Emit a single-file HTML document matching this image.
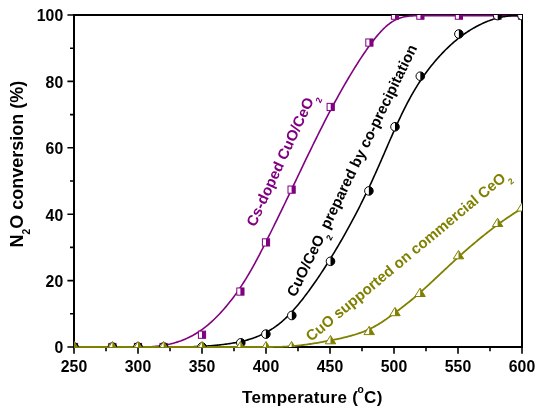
<!DOCTYPE html>
<html><head><meta charset="utf-8"><style>
html,body{margin:0;padding:0;background:#fff;}
svg{display:block;}
text{font-family:"Liberation Sans",Arial,sans-serif;font-weight:bold;}
.tl{font-size:15.8px;fill:#000;}
.at{font-size:17px;fill:#000;}
.ay{font-size:18px;}
.cl{font-size:14px;}
</style></head><body>
<svg width="550" height="413" viewBox="0 0 550 413">
<rect width="550" height="413" fill="#fff"/>
<defs><clipPath id="cp"><rect x="74" y="15" width="448" height="332"/></clipPath><clipPath id="co"><rect x="73" y="14" width="450" height="334"/></clipPath></defs>
<rect x="74" y="15" width="448" height="332" fill="none" stroke="#000" stroke-width="2"/>
<path d="M74.00,347 V353.8 M138.00,347 V353.8 M202.00,347 V353.8 M266.00,347 V353.8 M330.00,347 V353.8 M394.00,347 V353.8 M458.00,347 V353.8 M522.00,347 V353.8 M106.00,347 V351.3 M170.00,347 V351.3 M234.00,347 V351.3 M298.00,347 V351.3 M362.00,347 V351.3 M426.00,347 V351.3 M490.00,347 V351.3 M67.4,347.00 H74 M67.4,280.60 H74 M67.4,214.20 H74 M67.4,147.80 H74 M67.4,81.40 H74 M67.4,15.00 H74 M70,313.80 H74 M70,247.40 H74 M70,181.00 H74 M70,114.60 H74 M70,48.20 H74" stroke="#000" stroke-width="1.6" fill="none"/>
<g clip-path="url(#co)">
<path d="M74.00,347.00 L74.05,347.00 L74.12,347.00 L74.17,347.00 L74.24,347.00 L74.32,347.00 L74.41,347.00 L74.52,347.00 L74.65,347.00 L74.80,347.00 L74.97,347.00 L75.16,347.00 L75.38,347.00 L75.63,347.00 L75.90,347.00 L76.20,347.00 L76.52,347.00 L76.88,347.00 L77.28,347.00 L77.70,347.00 L78.17,347.00 L78.67,347.00 L79.20,347.00 L79.78,347.00 L80.40,347.00 L81.06,347.00 L81.76,347.00 L82.50,347.00 L83.28,347.00 L84.09,347.00 L84.94,347.00 L85.82,347.00 L86.72,347.00 L87.66,347.00 L88.62,347.00 L89.60,347.00 L90.61,347.00 L91.63,347.00 L92.67,347.00 L93.73,347.00 L94.81,347.00 L95.89,347.00 L96.99,347.00 L98.09,347.00 L99.20,347.00 L100.32,347.00 L101.44,347.00 L102.56,347.00 L103.68,347.00 L104.80,347.00 L105.91,347.00 L107.01,347.00 L108.11,347.00 L109.19,347.00 L110.27,347.00 L111.33,347.00 L112.37,347.00 L113.40,347.00 L114.42,347.00 L115.43,347.00 L116.43,347.00 L117.41,347.00 L118.39,347.00 L119.35,347.00 L120.30,347.00 L121.24,347.00 L122.18,347.00 L123.11,347.00 L124.02,347.00 L124.93,347.00 L125.84,347.00 L126.73,347.00 L127.62,347.00 L128.51,347.00 L129.39,347.00 L130.26,347.00 L131.13,347.00 L132.00,347.00 L132.86,347.00 L133.72,347.00 L134.58,347.00 L135.44,347.00 L136.29,347.00 L137.15,347.00 L138.00,347.00 L138.85,347.00 L139.71,347.00 L140.56,347.00 L141.42,347.00 L142.28,346.99 L143.14,346.98 L144.00,346.97 L144.87,346.96 L145.74,346.94 L146.61,346.92 L147.49,346.90 L148.38,346.87 L149.27,346.83 L150.16,346.79 L151.07,346.74 L151.98,346.69 L152.89,346.63 L153.82,346.56 L154.76,346.48 L155.70,346.39 L156.65,346.30 L157.61,346.19 L158.59,346.08 L159.57,345.95 L160.57,345.82 L161.58,345.67 L162.60,345.51 L163.63,345.34 L164.67,345.15 L165.73,344.95 L166.81,344.74 L167.89,344.51 L169.00,344.27 L170.11,344.02 L171.23,343.74 L172.37,343.45 L173.52,343.15 L174.68,342.82 L175.85,342.47 L177.03,342.11 L178.22,341.72 L179.42,341.31 L180.63,340.89 L181.84,340.43 L183.07,339.96 L184.30,339.46 L185.53,338.94 L186.78,338.39 L188.03,337.81 L189.28,337.21 L190.54,336.58 L191.80,335.92 L193.07,335.24 L194.34,334.52 L195.61,333.78 L196.89,333.00 L198.16,332.19 L199.44,331.35 L200.72,330.48 L202.00,329.57 L203.28,328.63 L204.56,327.65 L205.84,326.65 L207.11,325.61 L208.39,324.54 L209.66,323.44 L210.93,322.31 L212.20,321.16 L213.46,319.98 L214.72,318.77 L215.97,317.53 L217.22,316.28 L218.47,315.00 L219.70,313.69 L220.93,312.37 L222.16,311.02 L223.37,309.66 L224.58,308.28 L225.78,306.87 L226.97,305.46 L228.15,304.02 L229.32,302.57 L230.48,301.11 L231.63,299.64 L232.77,298.15 L233.89,296.65 L235.00,295.14 L236.11,293.62 L237.19,292.09 L238.27,290.56 L239.33,289.02 L240.37,287.47 L241.40,285.92 L242.42,284.35 L243.43,282.79 L244.43,281.21 L245.41,279.63 L246.39,278.05 L247.35,276.46 L248.30,274.86 L249.24,273.26 L250.18,271.65 L251.11,270.03 L252.02,268.41 L252.93,266.79 L253.84,265.16 L254.73,263.52 L255.62,261.88 L256.51,260.23 L257.39,258.58 L258.26,256.93 L259.13,255.26 L260.00,253.60 L260.86,251.93 L261.72,250.25 L262.58,248.57 L263.44,246.89 L264.29,245.20 L265.15,243.51 L266.00,241.81 L266.85,240.11 L267.71,238.40 L268.56,236.69 L269.42,234.97 L270.28,233.25 L271.14,231.51 L272.00,229.77 L272.87,228.01 L273.74,226.24 L274.62,224.46 L275.50,222.66 L276.38,220.85 L277.28,219.03 L278.18,217.19 L279.08,215.33 L279.99,213.45 L280.92,211.55 L281.85,209.63 L282.78,207.69 L283.73,205.73 L284.69,203.74 L285.66,201.73 L286.64,199.70 L287.63,197.63 L288.64,195.55 L289.65,193.43 L290.68,191.28 L291.72,189.10 L292.78,186.89 L293.85,184.65 L294.94,182.38 L296.04,180.07 L297.15,177.74 L298.28,175.38 L299.42,172.99 L300.57,170.57 L301.74,168.14 L302.91,165.68 L304.10,163.21 L305.30,160.71 L306.50,158.21 L307.72,155.68 L308.95,153.15 L310.18,150.61 L311.42,148.06 L312.67,145.50 L313.93,142.94 L315.19,140.37 L316.46,137.80 L317.73,135.24 L319.01,132.67 L320.29,130.11 L321.58,127.56 L322.86,125.02 L324.16,122.48 L325.45,119.96 L326.74,117.44 L328.04,114.95 L329.34,112.47 L330.63,110.01 L331.93,107.57 L333.23,105.15 L334.52,102.75 L335.81,100.37 L337.10,98.02 L338.39,95.69 L339.67,93.39 L340.95,91.11 L342.23,88.85 L343.50,86.63 L344.77,84.43 L346.03,82.26 L347.28,80.12 L348.53,78.00 L349.77,75.92 L351.00,73.87 L352.23,71.85 L353.44,69.86 L354.65,67.91 L355.85,65.99 L357.04,64.11 L358.22,62.26 L359.39,60.44 L360.54,58.66 L361.69,56.92 L362.82,55.22 L363.94,53.56 L365.04,51.93 L366.14,50.35 L367.22,48.81 L368.28,47.31 L369.33,45.85 L370.37,44.43 L371.39,43.05 L372.40,41.71 L373.40,40.41 L374.39,39.16 L375.36,37.94 L376.33,36.75 L377.29,35.61 L378.23,34.50 L379.17,33.44 L380.09,32.41 L381.01,31.41 L381.92,30.45 L382.83,29.53 L383.72,28.64 L384.61,27.79 L385.50,26.97 L386.38,26.19 L387.25,25.44 L388.12,24.72 L388.98,24.04 L389.85,23.39 L390.70,22.77 L391.56,22.18 L392.41,21.63 L393.27,21.10 L394.12,20.61 L394.97,20.15 L395.82,19.71 L396.67,19.31 L397.52,18.93 L398.37,18.58 L399.22,18.26 L400.08,17.96 L400.94,17.68 L401.80,17.43 L402.67,17.20 L403.54,16.99 L404.41,16.80 L405.29,16.63 L406.18,16.48 L407.07,16.34 L407.97,16.22 L408.87,16.12 L409.79,16.03 L410.71,15.95 L411.64,15.88 L412.58,15.83 L413.53,15.79 L414.49,15.75 L415.46,15.72 L416.44,15.70 L417.43,15.68 L418.43,15.67 L419.45,15.67 L420.48,15.67 L421.53,15.66 L422.58,15.66 L423.66,15.66 L424.74,15.66 L425.84,15.66 L426.95,15.66 L428.08,15.66 L429.22,15.66 L430.37,15.66 L431.53,15.66 L432.70,15.66 L433.88,15.66 L435.07,15.66 L436.27,15.66 L437.48,15.66 L438.70,15.66 L439.93,15.66 L441.16,15.66 L442.40,15.66 L443.64,15.66 L444.90,15.66 L446.15,15.66 L447.41,15.66 L448.68,15.66 L449.95,15.66 L451.23,15.66 L452.50,15.66 L453.78,15.66 L455.06,15.66 L456.35,15.66 L457.63,15.66 L458.92,15.66 L460.20,15.66 L461.49,15.66 L462.77,15.66 L464.05,15.66 L465.33,15.66 L466.61,15.66 L467.88,15.66 L469.16,15.66 L470.42,15.66 L471.68,15.66 L472.94,15.66 L474.19,15.66 L475.44,15.66 L476.68,15.66 L477.91,15.66 L479.13,15.66 L480.35,15.66 L481.55,15.66 L482.75,15.66 L483.94,15.66 L485.11,15.66 L486.28,15.66 L487.43,15.66 L488.58,15.66 L489.71,15.66 L490.82,15.66 L491.93,15.66 L493.02,15.66 L494.09,15.66 L495.15,15.66 L496.19,15.66 L497.22,15.66 L498.23,15.66 L499.23,15.66 L500.20,15.66 L501.16,15.66 L502.11,15.66 L503.03,15.66 L503.93,15.66 L504.82,15.66 L505.69,15.66 L506.53,15.66 L507.36,15.66 L508.16,15.66 L508.95,15.66 L509.71,15.66 L510.45,15.66 L511.17,15.66 L511.86,15.66 L512.54,15.66 L513.19,15.66 L513.81,15.66 L514.41,15.66 L514.99,15.66 L515.54,15.66 L516.07,15.66 L516.57,15.66 L517.05,15.66 L517.49,15.66 L517.92,15.66 L518.31,15.66 L518.68,15.66 L519.02,15.66 L519.34,15.66 L519.64,15.66 L519.91,15.66 L520.16,15.66 L520.39,15.66 L520.60,15.66 L520.79,15.66 L520.96,15.66 L521.12,15.66 L521.26,15.66 L521.38,15.66 L521.49,15.66 L521.59,15.66 L521.67,15.66 L521.74,15.66 L521.80,15.66 L521.85,15.66 L521.92,15.66 L521.98,15.66" stroke="#800080" stroke-width="1.6" fill="none"/>
<path d="M74.00,347.00 L74.05,347.00 L74.12,347.00 L74.17,347.00 L74.24,347.00 L74.32,347.00 L74.41,347.00 L74.52,347.00 L74.65,347.00 L74.80,347.00 L74.97,347.00 L75.16,347.00 L75.38,347.00 L75.63,347.00 L75.90,347.00 L76.20,347.00 L76.52,347.00 L76.88,347.00 L77.28,347.00 L77.70,347.00 L78.17,347.00 L78.67,347.00 L79.20,347.00 L79.78,347.00 L80.40,347.00 L81.06,347.00 L81.76,347.00 L82.50,347.00 L83.28,347.00 L84.09,347.00 L84.94,347.00 L85.82,347.00 L86.72,347.00 L87.66,347.00 L88.62,347.00 L89.60,347.00 L90.61,347.00 L91.63,347.00 L92.67,347.00 L93.73,347.00 L94.81,347.00 L95.89,347.00 L96.99,347.00 L98.09,347.00 L99.20,347.00 L100.32,347.00 L101.44,347.00 L102.56,347.00 L103.68,347.00 L104.80,347.00 L105.91,347.00 L107.01,347.00 L108.11,347.00 L109.19,347.00 L110.27,347.00 L111.33,347.00 L112.37,347.00 L113.40,347.00 L114.42,347.00 L115.43,347.00 L116.43,347.00 L117.41,347.00 L118.39,347.00 L119.35,347.00 L120.30,347.00 L121.24,347.00 L122.18,347.00 L123.11,347.00 L124.02,347.00 L124.93,347.00 L125.84,347.00 L126.73,347.00 L127.62,347.00 L128.51,347.00 L129.39,347.00 L130.26,347.00 L131.13,347.00 L132.00,347.00 L132.86,347.00 L133.72,347.00 L134.58,347.00 L135.44,347.00 L136.29,347.00 L137.15,347.00 L138.00,347.00 L138.85,347.00 L139.71,347.00 L140.56,347.00 L141.42,347.00 L142.28,347.00 L143.14,347.00 L144.00,347.00 L144.87,347.00 L145.74,347.00 L146.61,347.00 L147.49,347.00 L148.38,347.00 L149.27,347.00 L150.16,347.00 L151.07,347.00 L151.98,347.00 L152.89,347.00 L153.82,347.00 L154.76,347.00 L155.70,347.00 L156.65,347.00 L157.61,347.00 L158.59,347.00 L159.57,347.00 L160.57,347.00 L161.58,347.00 L162.60,347.00 L163.63,347.00 L164.67,347.00 L165.73,347.00 L166.81,347.00 L167.89,347.00 L169.00,347.00 L170.11,347.00 L171.23,347.00 L172.37,346.99 L173.52,346.99 L174.68,346.99 L175.85,346.98 L177.03,346.97 L178.23,346.97 L179.43,346.96 L180.63,346.94 L181.85,346.93 L183.08,346.91 L184.31,346.89 L185.55,346.87 L186.79,346.85 L188.04,346.82 L189.30,346.79 L190.56,346.76 L191.83,346.72 L193.10,346.68 L194.37,346.64 L195.65,346.59 L196.93,346.54 L198.21,346.49 L199.49,346.43 L200.78,346.37 L202.07,346.30 L203.35,346.23 L204.64,346.15 L205.93,346.07 L207.21,345.98 L208.49,345.89 L209.78,345.80 L211.05,345.70 L212.33,345.59 L213.60,345.48 L214.87,345.36 L216.13,345.25 L217.39,345.12 L218.64,344.99 L219.88,344.86 L221.12,344.72 L222.35,344.58 L223.58,344.43 L224.79,344.27 L226.00,344.11 L227.19,343.95 L228.38,343.78 L229.55,343.61 L230.72,343.43 L231.87,343.25 L233.01,343.06 L234.14,342.87 L235.26,342.67 L236.36,342.47 L237.44,342.26 L238.52,342.05 L239.57,341.83 L240.62,341.61 L241.65,341.38 L242.66,341.15 L243.66,340.91 L244.65,340.66 L245.63,340.41 L246.60,340.15 L247.55,339.89 L248.50,339.62 L249.43,339.34 L250.36,339.05 L251.27,338.76 L252.18,338.46 L253.08,338.15 L253.97,337.83 L254.86,337.51 L255.74,337.18 L256.62,336.83 L257.49,336.48 L258.35,336.12 L259.22,335.76 L260.07,335.38 L260.93,334.99 L261.78,334.59 L262.63,334.18 L263.48,333.77 L264.33,333.34 L265.18,332.90 L266.03,332.45 L266.88,331.99 L267.74,331.52 L268.59,331.03 L269.45,330.53 L270.30,330.02 L271.17,329.49 L272.03,328.94 L272.90,328.38 L273.77,327.79 L274.65,327.19 L275.54,326.57 L276.43,325.92 L277.32,325.26 L278.22,324.57 L279.13,323.85 L280.05,323.11 L280.98,322.35 L281.91,321.55 L282.85,320.73 L283.80,319.88 L284.77,319.00 L285.74,318.09 L286.72,317.15 L287.71,316.17 L288.72,315.16 L289.74,314.11 L290.77,313.03 L291.81,311.92 L292.86,310.76 L293.93,309.57 L295.02,308.33 L296.11,307.06 L297.23,305.75 L298.35,304.40 L299.48,303.02 L300.63,301.60 L301.79,300.15 L302.96,298.66 L304.14,297.13 L305.33,295.58 L306.53,293.99 L307.74,292.37 L308.95,290.71 L310.18,289.03 L311.41,287.32 L312.65,285.58 L313.89,283.81 L315.15,282.02 L316.40,280.19 L317.66,278.35 L318.93,276.47 L320.20,274.58 L321.47,272.65 L322.75,270.71 L324.03,268.74 L325.31,266.76 L326.60,264.75 L327.88,262.72 L329.16,260.67 L330.45,258.60 L331.73,256.51 L333.02,254.41 L334.30,252.29 L335.58,250.16 L336.86,248.01 L338.14,245.85 L339.41,243.67 L340.68,241.48 L341.95,239.28 L343.21,237.07 L344.47,234.85 L345.72,232.62 L346.96,230.39 L348.20,228.14 L349.44,225.89 L350.66,223.64 L351.88,221.38 L353.09,219.11 L354.30,216.85 L355.49,214.58 L356.68,212.31 L357.85,210.04 L359.02,207.77 L360.17,205.50 L361.31,203.23 L362.45,200.96 L363.57,198.70 L364.67,196.45 L365.77,194.20 L366.85,191.95 L367.92,189.71 L368.97,187.48 L370.02,185.26 L371.05,183.04 L372.06,180.83 L373.07,178.64 L374.06,176.45 L375.05,174.26 L376.02,172.09 L376.99,169.93 L377.94,167.77 L378.89,165.63 L379.83,163.50 L380.76,161.37 L381.68,159.26 L382.59,157.16 L383.50,155.07 L384.40,152.99 L385.30,150.93 L386.18,148.87 L387.07,146.83 L387.95,144.80 L388.82,142.78 L389.70,140.78 L390.56,138.79 L391.43,136.81 L392.29,134.85 L393.15,132.90 L394.01,130.97 L394.87,129.05 L395.72,127.15 L396.58,125.26 L397.44,123.38 L398.29,121.52 L399.15,119.68 L400.01,117.84 L400.87,116.03 L401.74,114.22 L402.60,112.43 L403.48,110.65 L404.35,108.89 L405.23,107.14 L406.12,105.40 L407.01,103.67 L407.91,101.96 L408.82,100.25 L409.73,98.56 L410.65,96.89 L411.58,95.22 L412.52,93.56 L413.47,91.92 L414.42,90.29 L415.39,88.67 L416.37,87.05 L417.37,85.45 L418.37,83.86 L419.39,82.28 L420.42,80.71 L421.46,79.15 L422.52,77.60 L423.59,76.06 L424.68,74.53 L425.78,73.00 L426.89,71.49 L428.02,70.00 L429.16,68.51 L430.31,67.03 L431.47,65.57 L432.64,64.13 L433.82,62.70 L435.02,61.28 L436.22,59.88 L437.43,58.49 L438.65,57.12 L439.88,55.77 L441.12,54.44 L442.36,53.12 L443.61,51.83 L444.86,50.55 L446.13,49.29 L447.39,48.06 L448.66,46.84 L449.94,45.65 L451.21,44.48 L452.50,43.34 L453.78,42.21 L455.07,41.11 L456.35,40.04 L457.64,38.99 L458.93,37.97 L460.22,36.97 L461.51,36.00 L462.80,35.05 L464.09,34.14 L465.37,33.24 L466.66,32.38 L467.94,31.53 L469.21,30.72 L470.49,29.92 L471.75,29.16 L473.02,28.41 L474.27,27.69 L475.52,27.00 L476.77,26.33 L478.00,25.68 L479.23,25.06 L480.45,24.45 L481.66,23.88 L482.86,23.32 L484.05,22.79 L485.23,22.28 L486.40,21.79 L487.56,21.33 L488.70,20.88 L489.83,20.46 L490.95,20.06 L492.06,19.68 L493.15,19.32 L494.22,18.98 L495.28,18.67 L496.33,18.37 L497.35,18.09 L498.36,17.84 L499.36,17.60 L500.33,17.37 L501.29,17.17 L502.23,16.98 L503.15,16.81 L504.05,16.65 L504.93,16.51 L505.80,16.38 L506.64,16.26 L507.46,16.16 L508.26,16.07 L509.04,15.98 L509.80,15.91 L510.54,15.85 L511.25,15.80 L511.94,15.75 L512.61,15.71 L513.26,15.68 L513.88,15.66 L514.47,15.64 L515.05,15.62 L515.60,15.61 L516.12,15.61 L516.62,15.60 L517.09,15.60 L517.53,15.60 L517.95,15.60 L518.34,15.60 L518.71,15.60 L519.05,15.60 L519.36,15.60 L519.66,15.60 L519.93,15.60 L520.17,15.60 L520.40,15.60 L520.61,15.60 L520.80,15.60 L520.97,15.60 L521.13,15.60 L521.26,15.60 L521.39,15.60 L521.49,15.60 L521.59,15.60 L521.67,15.60 L521.74,15.60 L521.80,15.60 L521.89,15.60 L521.95,15.60 L522.00,15.60" stroke="#000000" stroke-width="1.6" fill="none"/>
<path d="M74.00,347.00 L74.05,347.00 L74.12,347.00 L74.17,347.00 L74.24,347.00 L74.32,347.00 L74.41,347.00 L74.52,347.00 L74.65,347.00 L74.80,347.00 L74.97,347.00 L75.16,347.00 L75.38,347.00 L75.63,347.00 L75.90,347.00 L76.20,347.00 L76.52,347.00 L76.88,347.00 L77.28,347.00 L77.70,347.00 L78.17,347.00 L78.67,347.00 L79.20,347.00 L79.78,347.00 L80.40,347.00 L81.06,347.00 L81.76,347.00 L82.50,347.00 L83.28,347.00 L84.09,347.00 L84.94,347.00 L85.82,347.00 L86.72,347.00 L87.66,347.00 L88.62,347.00 L89.60,347.00 L90.61,347.00 L91.63,347.00 L92.67,347.00 L93.73,347.00 L94.81,347.00 L95.89,347.00 L96.99,347.00 L98.09,347.00 L99.20,347.00 L100.32,347.00 L101.44,347.00 L102.56,347.00 L103.68,347.00 L104.80,347.00 L105.91,347.00 L107.01,347.00 L108.11,347.00 L109.19,347.00 L110.27,347.00 L111.33,347.00 L112.37,347.00 L113.40,347.00 L114.42,347.00 L115.43,347.00 L116.43,347.00 L117.41,347.00 L118.39,347.00 L119.35,347.00 L120.30,347.00 L121.24,347.00 L122.18,347.00 L123.11,347.00 L124.02,347.00 L124.93,347.00 L125.84,347.00 L126.73,347.00 L127.62,347.00 L128.51,347.00 L129.39,347.00 L130.26,347.00 L131.13,347.00 L132.00,347.00 L132.86,347.00 L133.72,347.00 L134.58,347.00 L135.44,347.00 L136.29,347.00 L137.15,347.00 L138.00,347.00 L138.85,347.00 L139.71,347.00 L140.56,347.00 L141.42,347.00 L142.28,347.00 L143.14,347.00 L144.00,347.00 L144.87,347.00 L145.74,347.00 L146.61,347.00 L147.49,347.00 L148.38,347.00 L149.27,347.00 L150.16,347.00 L151.07,347.00 L151.98,347.00 L152.89,347.00 L153.82,347.00 L154.76,347.00 L155.70,347.00 L156.65,347.00 L157.61,347.00 L158.59,347.00 L159.57,347.00 L160.57,347.00 L161.58,347.00 L162.60,347.00 L163.63,347.00 L164.67,347.00 L165.73,347.00 L166.81,347.00 L167.89,347.00 L169.00,347.00 L170.11,347.00 L171.23,347.00 L172.37,347.00 L173.52,347.00 L174.68,347.00 L175.85,347.00 L177.03,347.00 L178.22,347.00 L179.42,347.00 L180.63,347.00 L181.84,347.00 L183.07,347.00 L184.30,347.00 L185.53,347.00 L186.78,347.00 L188.03,347.00 L189.28,347.00 L190.54,347.00 L191.80,347.00 L193.07,347.00 L194.34,347.00 L195.61,347.00 L196.89,347.00 L198.16,347.00 L199.44,347.00 L200.72,347.00 L202.00,347.00 L203.28,347.00 L204.56,347.00 L205.84,347.00 L207.11,347.00 L208.39,347.00 L209.66,347.00 L210.93,347.00 L212.20,347.00 L213.46,347.00 L214.72,347.00 L215.97,347.00 L217.22,347.00 L218.47,347.00 L219.70,347.00 L220.93,347.00 L222.16,347.00 L223.37,347.00 L224.58,347.00 L225.78,347.00 L226.97,347.00 L228.15,347.00 L229.32,347.00 L230.48,347.00 L231.63,347.00 L232.77,347.00 L233.89,347.00 L235.00,347.00 L236.11,347.00 L237.19,347.00 L238.27,347.00 L239.33,347.00 L240.37,347.00 L241.40,347.00 L242.42,347.00 L243.43,347.00 L244.43,347.00 L245.41,347.00 L246.39,347.00 L247.35,347.00 L248.30,347.00 L249.24,347.00 L250.18,347.00 L251.11,347.00 L252.02,347.00 L252.93,347.00 L253.84,347.00 L254.73,347.00 L255.62,347.00 L256.51,347.00 L257.39,347.00 L258.26,347.00 L259.13,347.00 L260.00,347.00 L260.86,347.00 L261.72,347.00 L262.58,347.00 L263.44,347.00 L264.29,347.00 L265.15,347.00 L266.00,347.00 L266.85,347.00 L267.71,347.00 L268.56,347.00 L269.42,347.00 L270.28,347.00 L271.14,346.99 L272.00,346.99 L272.87,346.98 L273.74,346.97 L274.62,346.96 L275.50,346.95 L276.38,346.94 L277.27,346.92 L278.17,346.90 L279.08,346.88 L279.99,346.85 L280.91,346.82 L281.84,346.78 L282.78,346.75 L283.72,346.70 L284.68,346.66 L285.65,346.61 L286.63,346.55 L287.61,346.49 L288.62,346.42 L289.63,346.35 L290.66,346.27 L291.70,346.19 L292.75,346.10 L293.82,346.00 L294.90,345.90 L296.00,345.79 L297.11,345.67 L298.23,345.55 L299.37,345.42 L300.51,345.28 L301.68,345.14 L302.85,345.00 L304.03,344.84 L305.22,344.68 L306.42,344.52 L307.64,344.35 L308.86,344.17 L310.09,343.99 L311.32,343.81 L312.57,343.62 L313.82,343.42 L315.07,343.22 L316.34,343.02 L317.61,342.80 L318.88,342.59 L320.16,342.37 L321.44,342.15 L322.72,341.92 L324.01,341.69 L325.30,341.45 L326.59,341.21 L327.88,340.97 L329.17,340.72 L330.47,340.47 L331.76,340.21 L333.05,339.95 L334.34,339.69 L335.63,339.42 L336.92,339.15 L338.21,338.87 L339.49,338.59 L340.77,338.31 L342.04,338.01 L343.31,337.72 L344.58,337.41 L345.84,337.10 L347.09,336.78 L348.34,336.46 L349.58,336.13 L350.81,335.79 L352.04,335.45 L353.25,335.10 L354.46,334.74 L355.66,334.37 L356.85,333.99 L358.03,333.61 L359.20,333.21 L360.36,332.81 L361.51,332.40 L362.64,331.97 L363.76,331.54 L364.87,331.10 L365.97,330.65 L367.05,330.18 L368.12,329.71 L369.17,329.23 L370.21,328.73 L371.24,328.23 L372.26,327.71 L373.26,327.19 L374.25,326.66 L375.23,326.12 L376.20,325.57 L377.16,325.02 L378.11,324.46 L379.05,323.89 L379.98,323.31 L380.90,322.73 L381.82,322.14 L382.72,321.55 L383.62,320.95 L384.52,320.35 L385.40,319.74 L386.29,319.13 L387.16,318.51 L388.03,317.89 L388.90,317.27 L389.76,316.64 L390.62,316.01 L391.48,315.38 L392.33,314.75 L393.18,314.12 L394.03,313.48 L394.88,312.85 L395.73,312.21 L396.58,311.58 L397.43,310.94 L398.28,310.30 L399.13,309.66 L399.98,309.01 L400.83,308.36 L401.69,307.70 L402.55,307.04 L403.41,306.37 L404.28,305.70 L405.16,305.01 L406.04,304.32 L406.92,303.62 L407.81,302.91 L408.71,302.19 L409.62,301.45 L410.53,300.71 L411.45,299.95 L412.39,299.18 L413.33,298.40 L414.28,297.60 L415.24,296.79 L416.21,295.96 L417.20,295.12 L418.20,294.25 L419.21,293.37 L420.23,292.47 L421.27,291.55 L422.32,290.62 L423.38,289.66 L424.46,288.68 L425.56,287.68 L426.66,286.67 L427.78,285.64 L428.92,284.59 L430.06,283.53 L431.22,282.45 L432.38,281.36 L433.56,280.25 L434.75,279.14 L435.95,278.01 L437.15,276.88 L438.37,275.73 L439.59,274.58 L440.82,273.42 L442.06,272.25 L443.31,271.08 L444.56,269.90 L445.82,268.72 L447.08,267.54 L448.35,266.35 L449.62,265.16 L450.90,263.98 L452.18,262.79 L453.46,261.61 L454.75,260.42 L456.04,259.24 L457.33,258.07 L458.62,256.90 L459.91,255.74 L461.20,254.58 L462.49,253.43 L463.78,252.29 L465.07,251.15 L466.36,250.02 L467.64,248.90 L468.93,247.80 L470.20,246.69 L471.48,245.60 L472.75,244.52 L474.01,243.45 L475.27,242.40 L476.52,241.35 L477.76,240.31 L478.99,239.29 L480.22,238.28 L481.44,237.29 L482.65,236.30 L483.85,235.33 L485.03,234.38 L486.21,233.44 L487.37,232.52 L488.53,231.61 L489.67,230.72 L490.79,229.84 L491.90,228.98 L493.00,228.14 L494.08,227.32 L495.15,226.52 L496.20,225.73 L497.23,224.96 L498.25,224.22 L499.25,223.49 L500.23,222.78 L501.19,222.08 L502.14,221.41 L503.06,220.75 L503.97,220.12 L504.86,219.50 L505.72,218.90 L506.57,218.31 L507.40,217.75 L508.20,217.20 L508.99,216.67 L509.75,216.16 L510.49,215.67 L511.20,215.19 L511.90,214.74 L512.57,214.30 L513.22,213.88 L513.84,213.47 L514.44,213.09 L515.02,212.72 L515.57,212.37 L516.09,212.03 L516.59,211.71 L517.07,211.41 L517.51,211.13 L517.93,210.87 L518.33,210.62 L518.69,210.39 L519.04,210.17 L519.35,209.97 L519.65,209.79 L519.92,209.61 L520.17,209.46 L520.40,209.31 L520.61,209.18 L520.80,209.06 L520.97,208.95 L521.12,208.85 L521.26,208.77 L521.38,208.69 L521.49,208.62 L521.59,208.56 L521.67,208.51 L521.74,208.46 L521.80,208.43 L521.89,208.37 L521.95,208.33 L522.00,208.30" stroke="#808000" stroke-width="1.8" fill="none"/>
</g><g clip-path="url(#cp)">
<rect x="70.40" y="343.40" width="7.20" height="7.20" fill="#fff" stroke="#800080" stroke-width="1"/><rect x="74.00" y="343.40" width="3.60" height="7.20" fill="#800080"/>
<rect x="108.80" y="343.40" width="7.20" height="7.20" fill="#fff" stroke="#800080" stroke-width="1"/><rect x="112.40" y="343.40" width="3.60" height="7.20" fill="#800080"/>
<rect x="134.40" y="343.40" width="7.20" height="7.20" fill="#fff" stroke="#800080" stroke-width="1"/><rect x="138.00" y="343.40" width="3.60" height="7.20" fill="#800080"/>
<rect x="160.00" y="343.40" width="7.20" height="7.20" fill="#fff" stroke="#800080" stroke-width="1"/><rect x="163.60" y="343.40" width="3.60" height="7.20" fill="#800080"/>
<rect x="198.40" y="331.12" width="7.20" height="7.20" fill="#fff" stroke="#800080" stroke-width="1"/><rect x="202.00" y="331.12" width="3.60" height="7.20" fill="#800080"/>
<rect x="236.80" y="287.96" width="7.20" height="7.20" fill="#fff" stroke="#800080" stroke-width="1"/><rect x="240.40" y="287.96" width="3.60" height="7.20" fill="#800080"/>
<rect x="262.40" y="238.82" width="7.20" height="7.20" fill="#fff" stroke="#800080" stroke-width="1"/><rect x="266.00" y="238.82" width="3.60" height="7.20" fill="#800080"/>
<rect x="288.00" y="186.03" width="7.20" height="7.20" fill="#fff" stroke="#800080" stroke-width="1"/><rect x="291.60" y="186.03" width="3.60" height="7.20" fill="#800080"/>
<rect x="327.10" y="103.36" width="7.20" height="7.20" fill="#fff" stroke="#800080" stroke-width="1"/><rect x="330.70" y="103.36" width="3.60" height="7.20" fill="#800080"/>
<rect x="365.80" y="38.96" width="7.20" height="7.20" fill="#fff" stroke="#800080" stroke-width="1"/><rect x="369.40" y="38.96" width="3.60" height="7.20" fill="#800080"/>
<rect x="391.40" y="12.06" width="7.20" height="7.20" fill="#fff" stroke="#800080" stroke-width="1"/><rect x="395.00" y="12.06" width="3.60" height="7.20" fill="#800080"/>
<rect x="416.80" y="12.06" width="7.20" height="7.20" fill="#fff" stroke="#800080" stroke-width="1"/><rect x="420.40" y="12.06" width="3.60" height="7.20" fill="#800080"/>
<rect x="455.30" y="12.06" width="7.20" height="7.20" fill="#fff" stroke="#800080" stroke-width="1"/><rect x="458.90" y="12.06" width="3.60" height="7.20" fill="#800080"/>
<rect x="493.90" y="12.06" width="7.20" height="7.20" fill="#fff" stroke="#800080" stroke-width="1"/><rect x="497.50" y="12.06" width="3.60" height="7.20" fill="#800080"/>
<rect x="518.40" y="12.06" width="7.20" height="7.20" fill="#fff" stroke="#800080" stroke-width="1"/><rect x="522.00" y="12.06" width="3.60" height="7.20" fill="#800080"/>
<circle cx="74.00" cy="347.00" r="4.3" fill="#fff" stroke="#000000" stroke-width="1"/><path d="M74.00,342.70 A4.3,4.3 0 0 1 74.00,351.30 Z" fill="#000000"/>
<circle cx="112.40" cy="347.00" r="4.3" fill="#fff" stroke="#000000" stroke-width="1"/><path d="M112.40,342.70 A4.3,4.3 0 0 1 112.40,351.30 Z" fill="#000000"/>
<circle cx="138.00" cy="347.00" r="4.3" fill="#fff" stroke="#000000" stroke-width="1"/><path d="M138.00,342.70 A4.3,4.3 0 0 1 138.00,351.30 Z" fill="#000000"/>
<circle cx="163.60" cy="347.00" r="4.3" fill="#fff" stroke="#000000" stroke-width="1"/><path d="M163.60,342.70 A4.3,4.3 0 0 1 163.60,351.30 Z" fill="#000000"/>
<circle cx="202.00" cy="347.00" r="4.3" fill="#fff" stroke="#000000" stroke-width="1"/><path d="M202.00,342.70 A4.3,4.3 0 0 1 202.00,351.30 Z" fill="#000000"/>
<circle cx="240.80" cy="342.80" r="4.3" fill="#fff" stroke="#000000" stroke-width="1"/><path d="M240.80,338.50 A4.3,4.3 0 0 1 240.80,347.10 Z" fill="#000000"/>
<circle cx="265.90" cy="334.10" r="4.3" fill="#fff" stroke="#000000" stroke-width="1"/><path d="M265.90,329.80 A4.3,4.3 0 0 1 265.90,338.40 Z" fill="#000000"/>
<circle cx="291.80" cy="315.50" r="4.3" fill="#fff" stroke="#000000" stroke-width="1"/><path d="M291.80,311.20 A4.3,4.3 0 0 1 291.80,319.80 Z" fill="#000000"/>
<circle cx="330.50" cy="261.30" r="4.3" fill="#fff" stroke="#000000" stroke-width="1"/><path d="M330.50,257.00 A4.3,4.3 0 0 1 330.50,265.60 Z" fill="#000000"/>
<circle cx="368.90" cy="190.90" r="4.3" fill="#fff" stroke="#000000" stroke-width="1"/><path d="M368.90,186.60 A4.3,4.3 0 0 1 368.90,195.20 Z" fill="#000000"/>
<circle cx="395.00" cy="126.80" r="4.3" fill="#fff" stroke="#000000" stroke-width="1"/><path d="M395.00,122.50 A4.3,4.3 0 0 1 395.00,131.10 Z" fill="#000000"/>
<circle cx="420.30" cy="76.20" r="4.3" fill="#fff" stroke="#000000" stroke-width="1"/><path d="M420.30,71.90 A4.3,4.3 0 0 1 420.30,80.50 Z" fill="#000000"/>
<circle cx="458.90" cy="34.00" r="4.3" fill="#fff" stroke="#000000" stroke-width="1"/><path d="M458.90,29.70 A4.3,4.3 0 0 1 458.90,38.30 Z" fill="#000000"/>
<circle cx="497.70" cy="15.60" r="4.3" fill="#fff" stroke="#000000" stroke-width="1"/><path d="M497.70,11.30 A4.3,4.3 0 0 1 497.70,19.90 Z" fill="#000000"/>
<circle cx="522.00" cy="15.60" r="4.3" fill="#fff" stroke="#000000" stroke-width="1"/><path d="M522.00,11.30 A4.3,4.3 0 0 1 522.00,19.90 Z" fill="#000000"/>
<path d="M74.00,341.50 L79.20,349.80 L68.80,349.80 Z" fill="#fff" stroke="#808000" stroke-width="1" stroke-linejoin="miter"/><path d="M74.00,341.50 L79.20,349.80 L74.00,349.80 Z" fill="#808000"/>
<path d="M112.40,341.50 L117.60,349.80 L107.20,349.80 Z" fill="#fff" stroke="#808000" stroke-width="1" stroke-linejoin="miter"/><path d="M112.40,341.50 L117.60,349.80 L112.40,349.80 Z" fill="#808000"/>
<path d="M138.00,341.50 L143.20,349.80 L132.80,349.80 Z" fill="#fff" stroke="#808000" stroke-width="1" stroke-linejoin="miter"/><path d="M138.00,341.50 L143.20,349.80 L138.00,349.80 Z" fill="#808000"/>
<path d="M163.60,341.50 L168.80,349.80 L158.40,349.80 Z" fill="#fff" stroke="#808000" stroke-width="1" stroke-linejoin="miter"/><path d="M163.60,341.50 L168.80,349.80 L163.60,349.80 Z" fill="#808000"/>
<path d="M202.00,341.50 L207.20,349.80 L196.80,349.80 Z" fill="#fff" stroke="#808000" stroke-width="1" stroke-linejoin="miter"/><path d="M202.00,341.50 L207.20,349.80 L202.00,349.80 Z" fill="#808000"/>
<path d="M240.40,341.50 L245.60,349.80 L235.20,349.80 Z" fill="#fff" stroke="#808000" stroke-width="1" stroke-linejoin="miter"/><path d="M240.40,341.50 L245.60,349.80 L240.40,349.80 Z" fill="#808000"/>
<path d="M266.00,341.50 L271.20,349.80 L260.80,349.80 Z" fill="#fff" stroke="#808000" stroke-width="1" stroke-linejoin="miter"/><path d="M266.00,341.50 L271.20,349.80 L266.00,349.80 Z" fill="#808000"/>
<path d="M291.60,341.50 L296.80,349.80 L286.40,349.80 Z" fill="#fff" stroke="#808000" stroke-width="1" stroke-linejoin="miter"/><path d="M291.60,341.50 L296.80,349.80 L291.60,349.80 Z" fill="#808000"/>
<path d="M330.50,335.50 L335.70,343.80 L325.30,343.80 Z" fill="#fff" stroke="#808000" stroke-width="1" stroke-linejoin="miter"/><path d="M330.50,335.50 L335.70,343.80 L330.50,343.80 Z" fill="#808000"/>
<path d="M369.20,326.30 L374.40,334.60 L364.00,334.60 Z" fill="#fff" stroke="#808000" stroke-width="1" stroke-linejoin="miter"/><path d="M369.20,326.30 L374.40,334.60 L369.20,334.60 Z" fill="#808000"/>
<path d="M395.00,307.40 L400.20,315.70 L389.80,315.70 Z" fill="#fff" stroke="#808000" stroke-width="1" stroke-linejoin="miter"/><path d="M395.00,307.40 L400.20,315.70 L395.00,315.70 Z" fill="#808000"/>
<path d="M420.10,288.20 L425.30,296.50 L414.90,296.50 Z" fill="#fff" stroke="#808000" stroke-width="1" stroke-linejoin="miter"/><path d="M420.10,288.20 L425.30,296.50 L420.10,296.50 Z" fill="#808000"/>
<path d="M458.50,250.50 L463.70,258.80 L453.30,258.80 Z" fill="#fff" stroke="#808000" stroke-width="1" stroke-linejoin="miter"/><path d="M458.50,250.50 L463.70,258.80 L458.50,258.80 Z" fill="#808000"/>
<path d="M497.60,218.20 L502.80,226.50 L492.40,226.50 Z" fill="#fff" stroke="#808000" stroke-width="1" stroke-linejoin="miter"/><path d="M497.60,218.20 L502.80,226.50 L497.60,226.50 Z" fill="#808000"/>
<path d="M522.00,202.80 L527.20,211.10 L516.80,211.10 Z" fill="#fff" stroke="#808000" stroke-width="1" stroke-linejoin="miter"/><path d="M522.00,202.80 L527.20,211.10 L522.00,211.10 Z" fill="#808000"/>
</g>
<text x="74.00" y="371.6" text-anchor="middle" class="tl">250</text>
<text x="138.00" y="371.6" text-anchor="middle" class="tl">300</text>
<text x="202.00" y="371.6" text-anchor="middle" class="tl">350</text>
<text x="266.00" y="371.6" text-anchor="middle" class="tl">400</text>
<text x="330.00" y="371.6" text-anchor="middle" class="tl">450</text>
<text x="394.00" y="371.6" text-anchor="middle" class="tl">500</text>
<text x="458.00" y="371.6" text-anchor="middle" class="tl">550</text>
<text x="522.00" y="371.6" text-anchor="middle" class="tl">600</text>
<text x="63.2" y="353.30" text-anchor="end" class="tl">0</text>
<text x="63.2" y="286.90" text-anchor="end" class="tl">20</text>
<text x="63.2" y="220.50" text-anchor="end" class="tl">40</text>
<text x="63.2" y="154.10" text-anchor="end" class="tl">60</text>
<text x="63.2" y="87.70" text-anchor="end" class="tl">80</text>
<text x="63.2" y="21.30" text-anchor="end" class="tl">100</text>
<text x="242" y="403" class="at" letter-spacing="0.32">Temperature (<tspan dx="-0.8" dy="-9.6" font-size="10.3">o</tspan><tspan dy="9.6">C)</tspan></text>
<text transform="translate(23.3,247.4) rotate(-90)" class="at ay">N<tspan dy="6.5" font-size="10.2">2</tspan><tspan dy="-6.5">O conversion (%)</tspan></text>
<text transform="translate(255.16,227.48) rotate(-65.1)" class="cl" fill="#800080" style="font-size:15px">Cs-doped CuO/CeO<tspan dy="6.9" font-size="8.5">2</tspan></text>
<text transform="translate(295.52,297.82) rotate(-64.0)" class="cl" fill="#000000" style="font-size:15px">CuO/CeO<tspan dy="6.9" font-size="8.5">2</tspan><tspan dy="-6.9"> prepared by co-precipitation</tspan></text>
<text transform="translate(311.05,342.10) rotate(-39.7)" class="cl" fill="#808000" style="font-size:15px">CuO supported on commercial CeO<tspan dy="6.9" font-size="8.5">2</tspan></text>
</svg>
</body></html>
